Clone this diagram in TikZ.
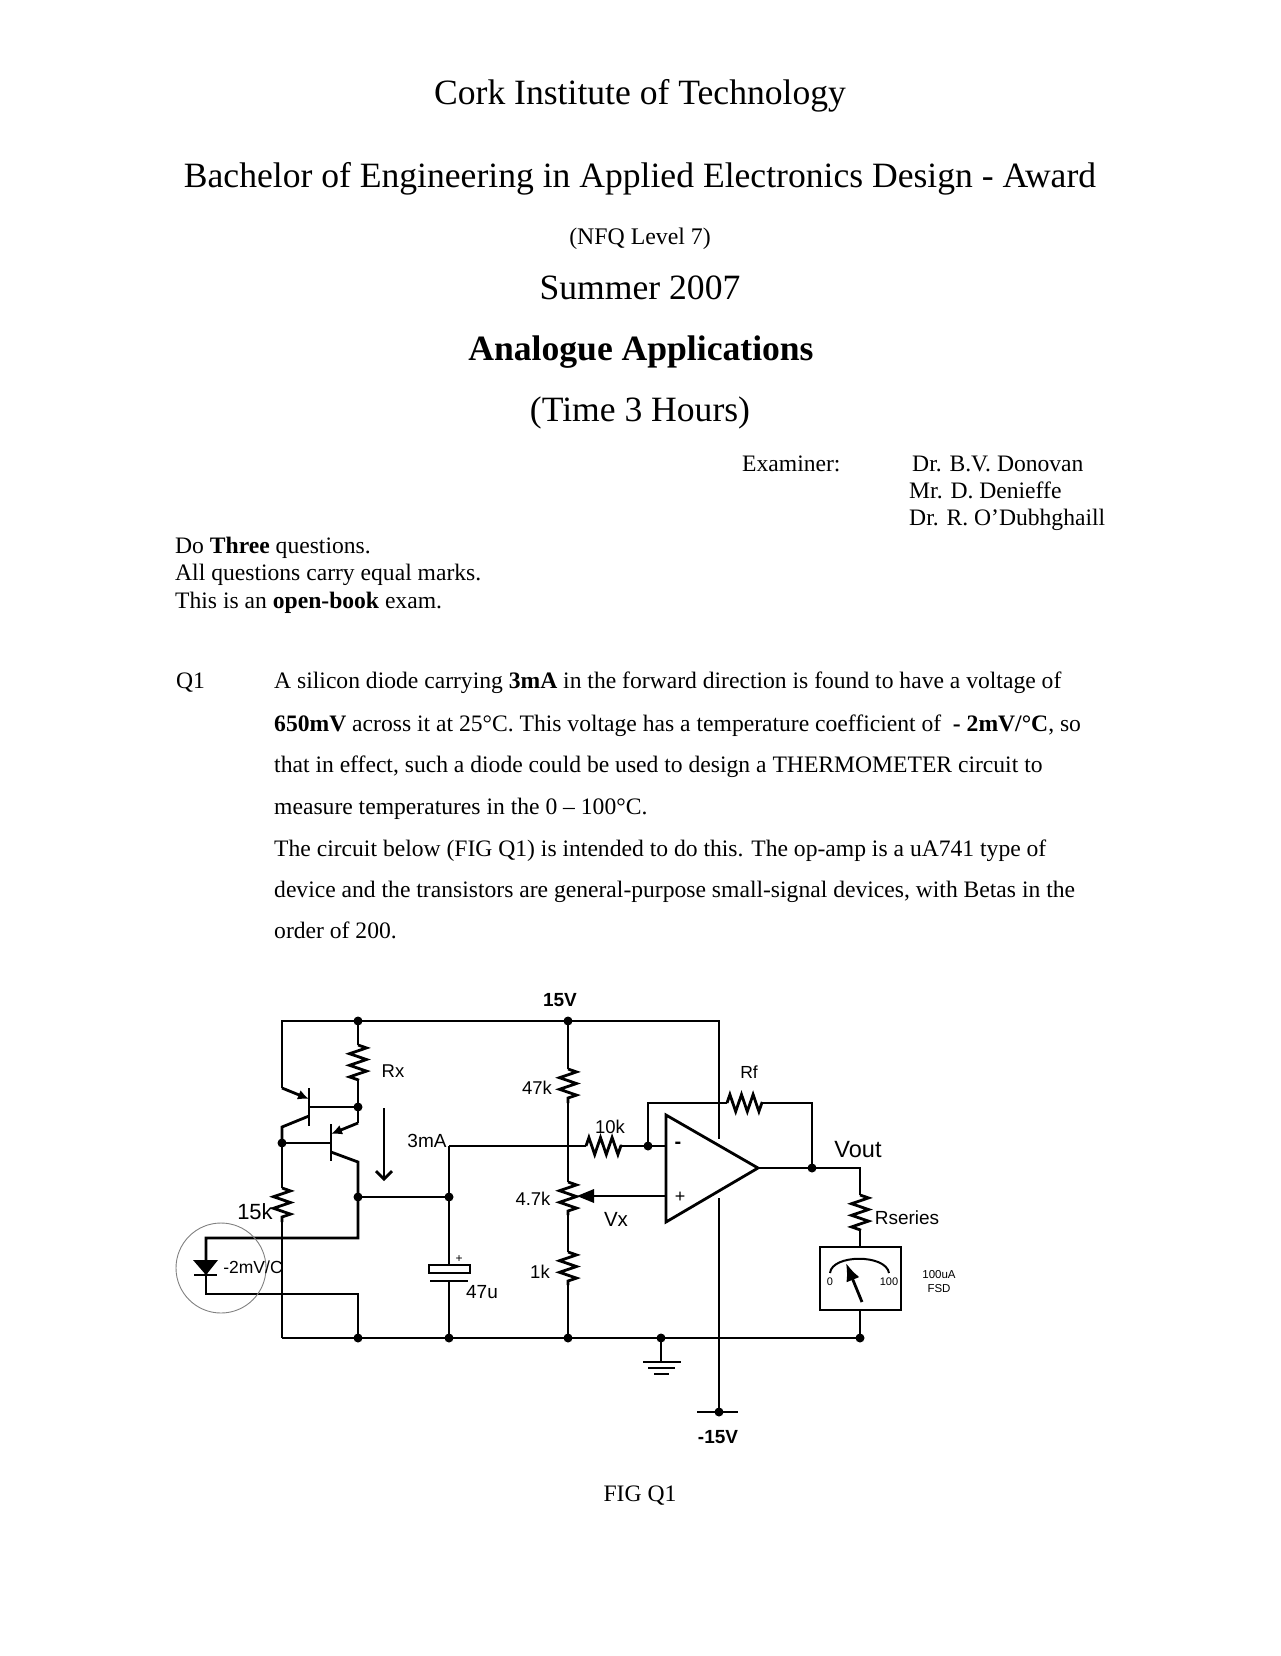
\documentclass[tikz,border=0pt]{standalone}
\usepackage{fontspec}
\setmainfont{Liberation Serif}
\setsansfont{Liberation Sans}
\usetikzlibrary{arrows.meta,decorations.pathmorphing}
\newcommand{\sz}[1]{\fontsize{#1}{#1}\selectfont}
\tikzset{
  wire/.style={line width=2.8pt},
  resistor/.style={line width=2.8pt, decorate, decoration={zigzag, segment length=11.6pt, amplitude=8.5pt}},
  paper/.style={inner sep=0pt, anchor=base, font=\sz{#1}},
  para/.style={inner sep=0pt, anchor=base west, font=\sz{#1}},
  lab/.style={inner sep=0pt, font=\sffamily\sz{#1}},
  boldlab/.style={inner sep=0pt, font=\sffamily\bfseries\sz{#1}}
}
\begin{document}
\begin{tikzpicture}[x=1pt,y=-1pt]
    \useasboundingbox (0,0) rectangle (1280,1656);

    % Heading of the paper
    \node[paper=35.6] (college) at (640,105) {Cork Institute of Technology};
    \node[paper=35.6] (course) at (640,188) {Bachelor of Engineering in Applied Electronics Design - Award};
    \node[paper=23.8] (level) at (640,244) {(NFQ Level 7)};
    \node[paper=35.6] (session) at (640,299) {Summer 2007};
    \node[paper=35.6] (subject) at (641,360) {\textbf{Analogue Applications}};
    \node[paper=35.6] (duration) at (640,421) {(Time 3 Hours)};

    % Examiners
    \node[para=23.6] (examiner) at (742,471) {Examiner:};
    \node[para=23.6] (exama) at (912,471) {Dr. B.V. Donovan};
    \node[para=23.6] (examb) at (909,498) {Mr. D. Denieffe};
    \node[para=23.6] (examc) at (909,525) {Dr. R. O’Dubhghaill};

    % Instructions
    \node[para=23.6] (instra) at (175,553) {Do \textbf{Three} questions.};
    \node[para=23.6] (instrb) at (175,580) {All questions carry equal marks.};
    \node[para=23.6] (instrc) at (175,608) {This is an \textbf{open-book} exam.};

    % Question text
    \node[para=23.6] (qnum) at (176,688) {Q1};
    \node[para=23.6] (qa) at (274,688) {A silicon diode carrying \textbf{3mA} in the forward direction is found to have a voltage of};
    \node[para=23.6] (qb) at (274,731) {\textbf{650mV} across it at 25°C. This voltage has a temperature coefficient of \ \textbf{- 2mV/°C}, so};
    \node[para=23.6] (qc) at (274,772) {that in effect, such a diode could be used to design a THERMOMETER circuit to};
    \node[para=23.6] (qd) at (274,814) {measure temperatures in the 0 – 100°C.};
    \node[para=23.6] (qe) at (274,856) {The circuit below (FIG Q1) is intended to do this. The op-amp is a uA741 type of};
    \node[para=23.6] (qf) at (274,897) {device and the transistors are general-purpose small-signal devices, with Betas in the};
    \node[para=23.6] (qg) at (274,938) {order of 200.};
    \node[paper=23.6] (caption) at (640,1501) {FIG Q1};

    % Top and bottom rails
    \coordinate (TL) at (282,1021);
    \coordinate (TA) at (358,1021);
    \coordinate (TB) at (568,1021);
    \coordinate (TC) at (719,1021);
    \coordinate (BL) at (282,1338);
    \coordinate (BA) at (358,1338);
    \coordinate (BB) at (449,1338);
    \coordinate (BC) at (568,1338);
    \coordinate (BG) at (661,1338);
    \coordinate (BR) at (860,1338);

    % Transistors and Rx
    \coordinate (RxT) at (358,1045);
    \coordinate (RxB) at (358,1080);
    \coordinate (Jb) at (358,1107);
    \coordinate (QaBarT) at (309,1088);
    \coordinate (QaBarB) at (309,1126);
    \coordinate (QaB) at (309,1107);
    \coordinate (QaE) at (282,1088);
    \coordinate (QaEb) at (309,1099);
    \coordinate (QaCb) at (309,1116);
    \coordinate (QaC) at (282,1127);
    \coordinate (Jc) at (282,1143);
    \coordinate (QbBarT) at (331,1124);
    \coordinate (QbBarB) at (331,1161);
    \coordinate (QbB) at (331,1143);
    \coordinate (QbE) at (358,1123);
    \coordinate (QbEb) at (331,1134);
    \coordinate (QbCb) at (331,1152);
    \coordinate (QbC) at (358,1162);
    \coordinate (Jd) at (358,1197);
    \coordinate (Je) at (449,1197);

    % 15k and the diode loop
    \coordinate (RbT) at (282,1188);
    \coordinate (RbB) at (282,1222);
    \coordinate (DA) at (358,1238);
    \coordinate (DB) at (206,1238);
    \coordinate (DC) at (206,1294);
    \coordinate (DD) at (358,1294);
    \coordinate (DL) at (193,1260);
    \coordinate (DR) at (218,1260);
    \coordinate (DT) at (206,1275);
    \coordinate (DBL) at (194,1275);
    \coordinate (DBR) at (217,1275);

    % Capacitor
    \coordinate (CT) at (449,1146);
    \coordinate (CP) at (449,1265);
    \coordinate (CPa) at (429,1265);
    \coordinate (CPb) at (470,1273);
    \coordinate (CQ) at (449,1281);
    \coordinate (CQa) at (430,1281);
    \coordinate (CQb) at (468,1281);

    % Divider and input resistor
    \coordinate (RcT) at (568,1069);
    \coordinate (RcB) at (568,1103);
    \coordinate (RdT) at (568,1182);
    \coordinate (RdB) at (568,1215);
    \coordinate (ReT) at (568,1252);
    \coordinate (ReB) at (568,1285);
    \coordinate (RfL) at (586,1146);
    \coordinate (RfR) at (622,1146);
    \coordinate (Jf) at (648,1146);
    \coordinate (PotTip) at (577,1196);
    \coordinate (PotA) at (594,1189);
    \coordinate (PotB) at (594,1203);
    \coordinate (PotC) at (594,1196);

    % Op-amp
    \coordinate (OaT) at (666,1115);
    \coordinate (OaB) at (666,1222);
    \coordinate (OaO) at (758,1168);
    \coordinate (OaM) at (666,1146);
    \coordinate (OaP) at (666,1196);
    \coordinate (SupT) at (719,1139);
    \coordinate (SupB) at (719,1198);
    \coordinate (SupE) at (719,1412);
    \coordinate (SupL) at (697,1412);
    \coordinate (SupR) at (738,1412);

    % Feedback and output
    \coordinate (FbA) at (648,1103);
    \coordinate (RgL) at (727,1103);
    \coordinate (RgR) at (762,1103);
    \coordinate (FbB) at (812,1103);
    \coordinate (Jg) at (812,1168);
    \coordinate (OutA) at (860,1168);
    \coordinate (RhT) at (860,1195);
    \coordinate (RhB) at (860,1230);

    % Meter
    \coordinate (MT) at (860,1247);
    \coordinate (MB) at (860,1310);
    \coordinate (MA) at (820,1247);
    \coordinate (MC) at (901,1310);
    \coordinate (ArcL) at (830,1273);
    \coordinate (ArcM) at (859,1257);
    \coordinate (ArcR) at (889,1273);
    \coordinate (NdA) at (862,1302);
    \coordinate (NdB) at (846,1263);

    % Ground
    \coordinate (GT) at (661,1362);
    \coordinate (GaL) at (643,1362);
    \coordinate (GaR) at (681,1362);
    \coordinate (GbL) at (648,1368);
    \coordinate (GbR) at (675,1368);
    \coordinate (GcL) at (654,1374);
    \coordinate (GcR) at (669,1374);

    % Rails and supply
    \draw[wire] (QaE) -- (TL) -- (TC) -- (SupT);
    \draw[wire] (BL) -- (BR);
    \draw[wire] (SupB) -- (SupE);
    \draw[wire] (SupL) -- (SupR);

    % Rx and the two transistors
    \draw[wire] (TA) -- (RxT);
    \draw[resistor] (RxT) -- (RxB);
    \draw[wire] (RxB) -- (QbE);
    \draw[wire] (QaBarT) -- (QaBarB);
    \draw[wire] (QaB) -- (Jb);
    \draw[wire,-{Latex[length=11pt,width=10pt]}] (QaE) -- (QaEb);
    \draw[wire] (QaCb) -- (QaC) -- (Jc);
    \draw[wire] (QbBarT) -- (QbBarB);
    \draw[wire] (Jc) -- (QbB);
    \draw[wire,-{Latex[length=11pt,width=10pt]}] (QbE) -- (QbEb);
    \draw[wire] (QbCb) -- (QbC) -- (DA) -- (DB) -- (DT);
    \draw[wire] (Jd) -- (Je);

    % 15k resistor runs on to the bottom rail
    \draw[wire] (Jc) -- (RbT);
    \draw[resistor] (RbT) -- (RbB);
    \draw[wire] (RbB) -- (BL);

    % Diode
    \fill (DL) -- (DR) -- (DT) -- cycle;
    \draw[wire] (DBL) -- (DBR);
    \draw[wire] (DT) -- (DC) -- (DD) -- (BA);
    \draw[gray,line width=0.9pt] (221,1268) circle (45pt);

    % Capacitor
    \draw[wire] (CT) -- (CP);
    \draw[wire] (CPa) rectangle (CPb);
    \draw[wire] (CQa) -- (CQb);
    \draw[wire] (CQ) -- (BB);

    % Divider
    \draw[wire] (TB) -- (RcT);
    \draw[resistor] (RcT) -- (RcB);
    \draw[wire] (RcB) -- (RdT);
    \draw[resistor] (RdT) -- (RdB);
    \draw[wire] (RdB) -- (ReT);
    \draw[resistor] (ReT) -- (ReB);
    \draw[wire] (ReB) -- (BC);
    \fill (PotTip) -- (PotA) -- (PotB) -- cycle;
    \draw[wire] (PotC) -- (OaP);

    % Input resistor and the op-amp
    \draw[wire] (CT) -- (RfL);
    \draw[resistor] (RfL) -- (RfR);
    \draw[wire] (RfR) -- (OaM);
    \draw[wire] (OaT) -- (OaB) -- (OaO) -- cycle;

    % Feedback
    \draw[wire] (Jf) -- (FbA) -- (RgL);
    \draw[resistor] (RgL) -- (RgR);
    \draw[wire] (RgR) -- (FbB) -- (Jg);
    \draw[wire] (OaO) -- (OutA) -- (RhT);
    \draw[resistor] (RhT) -- (RhB);
    \draw[wire] (RhB) -- (MT);

    % Meter
    \draw[wire] (MA) rectangle (MC);
    \draw[wire] (MB) -- (BR);
    \draw[line width=2pt] (ArcL) .. controls (832,1254) and (886,1254) .. (ArcR);
    \draw[wire,-{Latex[length=18pt,width=14pt]}] (NdA) -- (NdB);

    % Ground
    \draw[wire] (BG) -- (GT);
    \draw[wire] (GaL) -- (GaR);
    \draw[wire] (GbL) -- (GbR);
    \draw[wire] (GcL) -- (GcR);

    % Current arrow
    \coordinate (IA) at (384,1108);
    \coordinate (IB) at (384,1181);
    \draw[wire,-{Straight Barb[length=8pt,width=16pt]}] (IA) -- (IB);

    % Junction dots
    \foreach \pos in {TA,TB,BA,BB,BC,BG,BR,Jb,Jc,Jd,Je,Jf,Jg,SupE}
        \fill (\pos) circle (4.5pt);

    % Labels of the circuit
    \node[boldlab=19] (vplus) at (560,1000) {15V};
    \node[boldlab=19] (vminus) at (718,1437) {-15V};
    \node[lab=18.5] (lrx) at (393,1071) {Rx};
    \node[lab=19] (lcur) at (427,1141) {3mA};
    \node[lab=22] (lrb) at (255,1212) {15k};
    \node[lab=17.5] (ldiode) at (253,1267) {-2mV/C};
    \node[lab=12] (lcplus) at (459,1259) {+};
    \node[lab=19] (lcap) at (482,1292) {47u};
    \node[lab=18.5] (lrc) at (537,1088) {47k};
    \node[lab=18.5] (lrd) at (533,1199) {4.7k};
    \node[lab=18.5] (lre) at (540,1272) {1k};
    \node[lab=18.5] (lrf) at (610,1127) {10k};
    \node[lab=20.5] (lvx) at (616,1219) {Vx};
    \node[boldlab=20] (lminus) at (678,1145) {-};
    \node[lab=18] (lplus) at (680,1197) {+};
    \node[lab=17.5] (lrg) at (749,1072) {Rf};
    \node[lab=23.5] (lvout) at (858,1150) {Vout};
    \node[lab=19] (lrh) at (907,1218) {Rseries};
    \node[lab=11] (lzero) at (830,1282) {0};
    \node[lab=11] (lhund) at (889,1282) {100};
    \node[lab=11.5] (lfsda) at (939,1275) {100uA};
    \node[lab=11.5] (lfsdb) at (939,1289) {FSD};

\end{tikzpicture}
\end{document}
